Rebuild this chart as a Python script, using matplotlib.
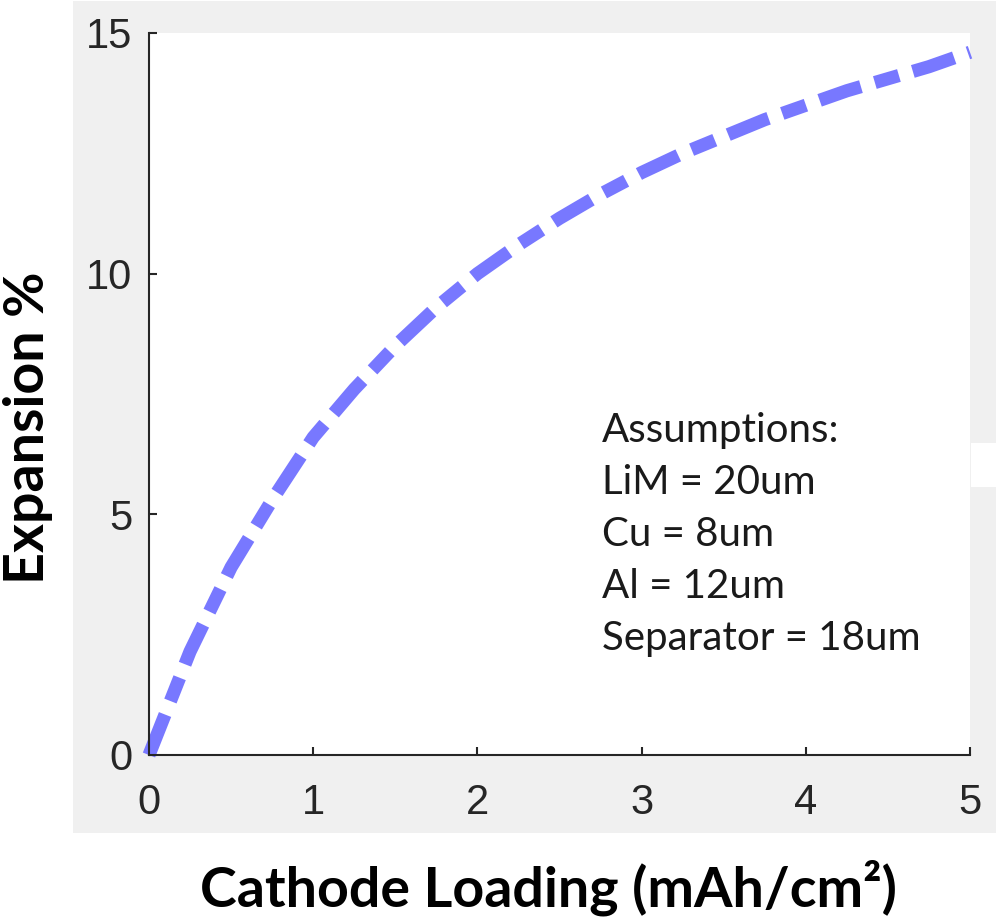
import matplotlib
matplotlib.use("Agg")
import matplotlib.pyplot as plt
from matplotlib.patches import Rectangle

# ---- data ----
loading = [0, 0.25, 0.5, 0.75, 1.0, 1.25, 1.5, 1.75, 2.0, 2.25, 2.5,
           2.75, 3.0, 3.25, 3.5, 3.75, 4.0, 4.25, 4.5, 4.75, 5.0]
expansion = [0, 2.15, 3.9, 5.3, 6.6, 7.6, 8.5, 9.3, 10.0, 10.6, 11.15,
             11.65, 12.1, 12.5, 12.85, 13.2, 13.5, 13.8, 14.05, 14.3, 14.6]
xticks = [0, 1, 2, 3, 4, 5]
yticks = [0, 5, 10, 15]
xlabel = "Cathode Loading (mAh/cm²)"
ylabel = "Expansion %"
notes = ["Assumptions:", "LiM = 20um", "Cu = 8um", "Al = 12um", "Separator = 18um"]

W, H = 996, 918
fig = plt.figure(figsize=(W / 100, H / 100), dpi=100, facecolor="white")

def fx(px):
    return px / W

def fy(py):
    return 1 - py / H

# gray MATLAB-like figure panel
fig.patches.append(Rectangle((fx(73), fy(833)), fx(996) - fx(73), fy(1) - fy(833),
                             transform=fig.transFigure, facecolor="#f0f0f0",
                             edgecolor="none", zorder=0))
# white notch on the right edge
fig.patches.append(Rectangle((fx(971), fy(487)), fx(996) - fx(971), fy(443) - fy(487),
                             transform=fig.transFigure, facecolor="white",
                             edgecolor="none", zorder=1))

ax = fig.add_axes([fx(149), fy(755), fx(970) - fx(149), fy(33) - fy(755)])
ax.set_facecolor("white")
ax.set_zorder(2)

ax.plot(loading, expansion, color="#7878ff", lw=9.5,
        dashes=[3.3, 1.1, 1.9, 1.1], solid_capstyle="butt", dash_capstyle="butt",
        clip_on=False)

ax.set_xlim(0, 5)
ax.set_ylim(0, 15)
ax.set_xticks(xticks)
ax.set_yticks(yticks)
for s in ["top", "right"]:
    ax.spines[s].set_visible(False)
for s in ["left", "bottom"]:
    ax.spines[s].set_color("#262626")
    ax.spines[s].set_linewidth(1.5)

ax.tick_params(axis="both", direction="in", length=6, width=1.5, color="#262626",
               labelcolor="#262626", labelsize=30)
ax.tick_params(axis="y", pad=12)
ax.tick_params(axis="x", pad=20)
for lab in ax.get_xticklabels() + ax.get_yticklabels():
    lab.set_family(["Liberation Sans", "DejaVu Sans"])

# axis labels (outside the gray panel)
fig.text(fx(548), fy(907), xlabel, ha="center", va="baseline", fontsize=40,
         fontweight="bold", family=["Lato", "DejaVu Sans"], color="black")
fig.text(fx(28), fy(428), ylabel, ha="center", va="center", rotation=90,
         fontsize=40, fontweight="bold", family=["Lato", "DejaVu Sans"],
         color="black", rotation_mode="anchor")

# assumptions text
base0 = 442
step = 52
for i, line in enumerate(notes):
    fig.text(fx(602), fy(base0 + i * step), line, ha="left", va="baseline",
             fontsize=29, family=["Lato", "DejaVu Sans"], color="#1a1a1a", zorder=5)

fig.savefig("out.png", dpi=100, facecolor="white")
